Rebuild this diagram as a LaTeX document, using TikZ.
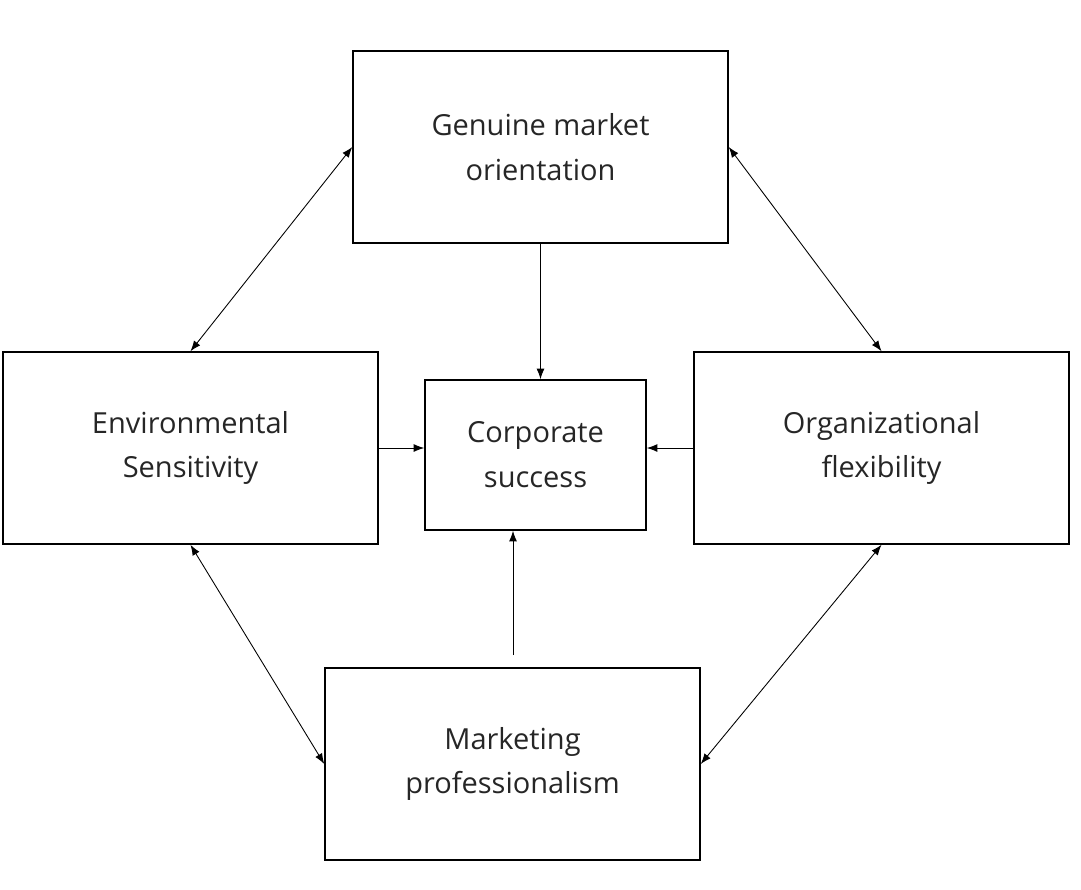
\documentclass[tikz,border=0pt]{standalone}
\usepackage{fontspec}
\setmainfont{Open Sans}
\usetikzlibrary{arrows.meta}
\begin{document}
\begin{tikzpicture}[x=0.02cm,y=-0.02cm,
  box/.style={draw,line width=0.9pt,minimum width=7.5cm,minimum height=3.84cm,align=center,font=\fontsize{16.5}{25.5}\selectfont,text=black!85},
  con/.style={line width=0.5pt,-{Latex[length=6pt,width=4.5pt]}},
  dcon/.style={line width=0.5pt,{Latex[length=6pt,width=4.5pt]}-{Latex[length=6pt,width=4.5pt]}}]
\useasboundingbox (0,0) rectangle (1081,889);
\node[box] (top) at (540.5,147) {Genuine market\\orientation};
\node[box] (left) at (190.5,448) {Environmental\\Sensitivity};
\node[box] (right) at (881.5,448) {Organizational\\flexibility};
\node[box] (bot) at (512.5,764) {Marketing\\professionalism};
\node[box,minimum width=4.42cm,minimum height=3cm] (cen) at (535.5,455) {Corporate\\success};
\coordinate (bs) at (513,655);
\draw[dcon] (top.west) -- (left.north);
\draw[dcon] (top.east) -- (right.north);
\draw[dcon] (left.south) -- (bot.west);
\draw[dcon] (right.south) -- (bot.east);
\draw[con] (top.south) -- (top.south |- cen.north);
\draw[con] (left.east) -- (left.east -| cen.west);
\draw[con] (right.west) -- (right.west -| cen.east);
\draw[con] (bs) -- (bs |- cen.south);
\end{tikzpicture}
\end{document}
